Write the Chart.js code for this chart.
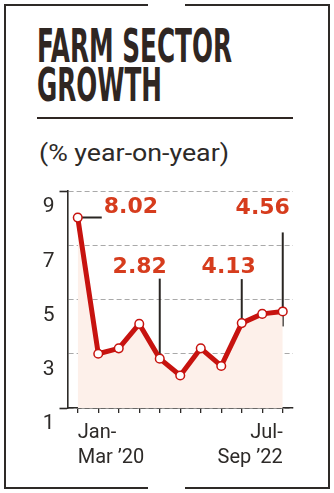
<!DOCTYPE html>
<html>
<head>
<meta charset="utf-8">
<script src="https://cdn.jsdelivr.net/npm/chart.js@4.4.0/dist/chart.umd.min.js"></script>
<style>
  html, body { margin: 0; padding: 0; background: #ffffff; }
  body { width: 334px; height: 493px; position: relative; overflow: hidden; }
  #frame { position: absolute; left: 4px; top: 4px; width: 325.5px; height: 485px; box-sizing: border-box; border: 2px solid #2e2a27; }
  .gap { position: absolute; left: 148.3px; width: 36.7px; height: 5px; background: #ffffff; }
  #c { position: absolute; left: 0; top: 0; }
  .title { position: absolute; left: 37px; font-family: "Liberation Sans Narrow", "DejaVu Sans Condensed", "Liberation Sans", sans-serif; font-weight: bold; font-size: 47px; line-height: 47px; color: #2f2622; white-space: nowrap; transform-origin: 0 0; display: inline-block; }
  #rule { position: absolute; left: 37px; top: 116.7px; width: 256.3px; height: 2px; background: #2f2622; }
  #sub { position: absolute; left: 39px; top: 140.8px; font-family: Roboto, "Liberation Sans", sans-serif; font-size: 24px; line-height: 24px; color: #2d2a28; white-space: nowrap; transform-origin: 0 0; display: inline-block; }
</style>
</head>
<body>
<div id="frame"></div>
<div class="gap" style="top:2px"></div>
<div class="gap" style="top:485px"></div>
<span class="title" id="t1" style="top:22px">FARM SECTOR</span>
<span class="title" id="t2" style="top:60.7px">GROWTH</span>
<div id="rule"></div>
<span id="sub">(% year-on-year)</span>
<canvas id="c" width="334" height="493"></canvas>
<script>
// ---- data ----
const categories = ["Jan-Mar '20", "Apr-Jun '20", "Jul-Sep '20", "Oct-Dec '20", "Jan-Mar '21", "Apr-Jun '21",
                    "Jul-Sep '21", "Oct-Dec '21", "Jan-Mar '22", "Apr-Jun '22", "Jul-Sep '22"];
const growth = [8.02, 3.0, 3.2, 4.1, 2.82, 2.2, 3.2, 2.55, 4.13, 4.47, 4.56];
const yTickLabels = [1, 3, 5, 7, 9];
const xLabelFirst = ["Jan-", "Mar \u201920"];
const xLabelLast = ["Jul-", "Sep \u201922"];
const annotatedIdx = [0, 4, 8, 10];

// ---- styles ----
const DARK = '#2d2a28';
const LINE_RED = '#c7130f';
const LABEL_RED = '#d63c1d';
const ANN_STYLE = {
  0:  { align: 'left',   dx: 26,  dy: -5,  horiz: 24, down: 13 },
  4:  { align: 'center', dx: -20, dy: -86, top: -80, bottom: 0 },
  8:  { align: 'center', dx: -13, dy: -50, top: -44, bottom: 0 },
  10: { align: 'center', dx: -20, dy: -97, top: -79, bottom: 15 }
};

function fitWidth(id, target) {
  const el = document.getElementById(id);
  const w = el.getBoundingClientRect().width;
  if (w > 0) el.style.transform = 'scaleX(' + (target / w) + ')';
}
fitWidth('t1', 195);
fitWidth('t2', 125);
fitWidth('sub', 190);

const leaderPlugin = {
  id: 'leaders',
  beforeDatasetsDraw(chart) {
    const ctx = chart.ctx;
    const meta = chart.getDatasetMeta(0);
    ctx.save();
    ctx.strokeStyle = '#2a2623';
    ctx.lineWidth = 2;
    annotatedIdx.forEach(i => {
      const p = meta.data[i];
      const s = ANN_STYLE[i];
      ctx.beginPath();
      if (s.horiz) {
        ctx.moveTo(p.x, p.y);
        ctx.lineTo(p.x + s.horiz, p.y);
        ctx.moveTo(p.x + 1, p.y);
        ctx.lineTo(p.x + 1, p.y + s.down);
      } else {
        ctx.moveTo(p.x, p.y + s.top);
        ctx.lineTo(p.x, p.y + s.bottom);
      }
      ctx.stroke();
    });
    ctx.restore();
  },
  afterDatasetsDraw(chart) {
    const ctx = chart.ctx;
    const meta = chart.getDatasetMeta(0);
    ctx.save();
    ctx.fillStyle = LABEL_RED;
    ctx.font = 'bold 22px "DejaVu Sans", sans-serif';
    ctx.textBaseline = 'alphabetic';
    annotatedIdx.forEach(i => {
      const p = meta.data[i];
      const s = ANN_STYLE[i];
      ctx.textAlign = s.align;
      ctx.fillText(growth[i].toFixed(2), p.x + s.dx, p.y + s.dy);
    });
    ctx.restore();
  },
  afterDraw(chart) {
    const ctx = chart.ctx;
    const xs = chart.scales.x;
    ctx.save();
    ctx.fillStyle = DARK;
    ctx.font = '20px Roboto, sans-serif';
    ctx.textBaseline = 'alphabetic';
    const x0 = xs.getPixelForValue(0);
    const x1 = xs.getPixelForValue(categories.length - 1);
    ctx.textAlign = 'left';
    ctx.fillText(xLabelFirst[0], x0, xs.top + 29.5);
    ctx.fillText(xLabelFirst[1], x0, xs.top + 54.5);
    ctx.textAlign = 'right';
    ctx.fillText(xLabelLast[0], x1, xs.top + 29.5);
    ctx.fillText(xLabelLast[1], x1, xs.top + 54.5);
    ctx.restore();
  }
};

new Chart(document.getElementById('c'), {
  type: 'line',
  data: {
    labels: categories,
    datasets: [{
      data: growth,
      borderColor: LINE_RED,
      borderWidth: 5,
      borderJoinStyle: 'round',
      backgroundColor: '#fdf0ea',
      fill: 'start',
      tension: 0,
      pointRadius: 4.3,
      pointBorderWidth: 1.5,
      pointBackgroundColor: '#ffffff',
      pointBorderColor: LINE_RED,
      clip: false
    }]
  },
  options: {
    responsive: false,
    animation: false,
    devicePixelRatio: 1,
    layout: { padding: { top: 191, right: 41, left: 0, bottom: 0 } },
    plugins: { legend: { display: false }, tooltip: { enabled: false }, title: { display: false } },
    scales: {
      x: {
        type: 'category',
        offset: true,
        afterFit(scale) { scale.height = 85; },
        grid: { drawOnChartArea: false, drawTicks: true, tickLength: 5, color: DARK, lineWidth: 1.3 },
        border: { color: DARK, width: 1.6 },
        ticks: { display: false }
      },
      y: {
        min: 1,
        max: 9,
        afterFit(scale) { scale.width = 67.5; },
        grid: {
          color: '#a9a9a9',
          lineWidth: 1,
          tickLength: 8,
          tickWidth: 1.6,
          tickBorderDash: [],
          tickColor: (c) => (c.tick && (c.tick.value === 9 || c.tick.value === 1)) ? DARK : 'rgba(0,0,0,0)'
        },
        border: { color: DARK, width: 1.6, dash: [5, 3] },
        ticks: {
          stepSize: 1,
          padding: 5,
          labelOffset: 16,
          color: DARK,
          font: { family: 'Roboto', size: 21 },
          callback: (v) => yTickLabels.includes(v) ? String(v) : ''
        }
      }
    }
  },
  plugins: [leaderPlugin]
});
</script>
</body>
</html>
